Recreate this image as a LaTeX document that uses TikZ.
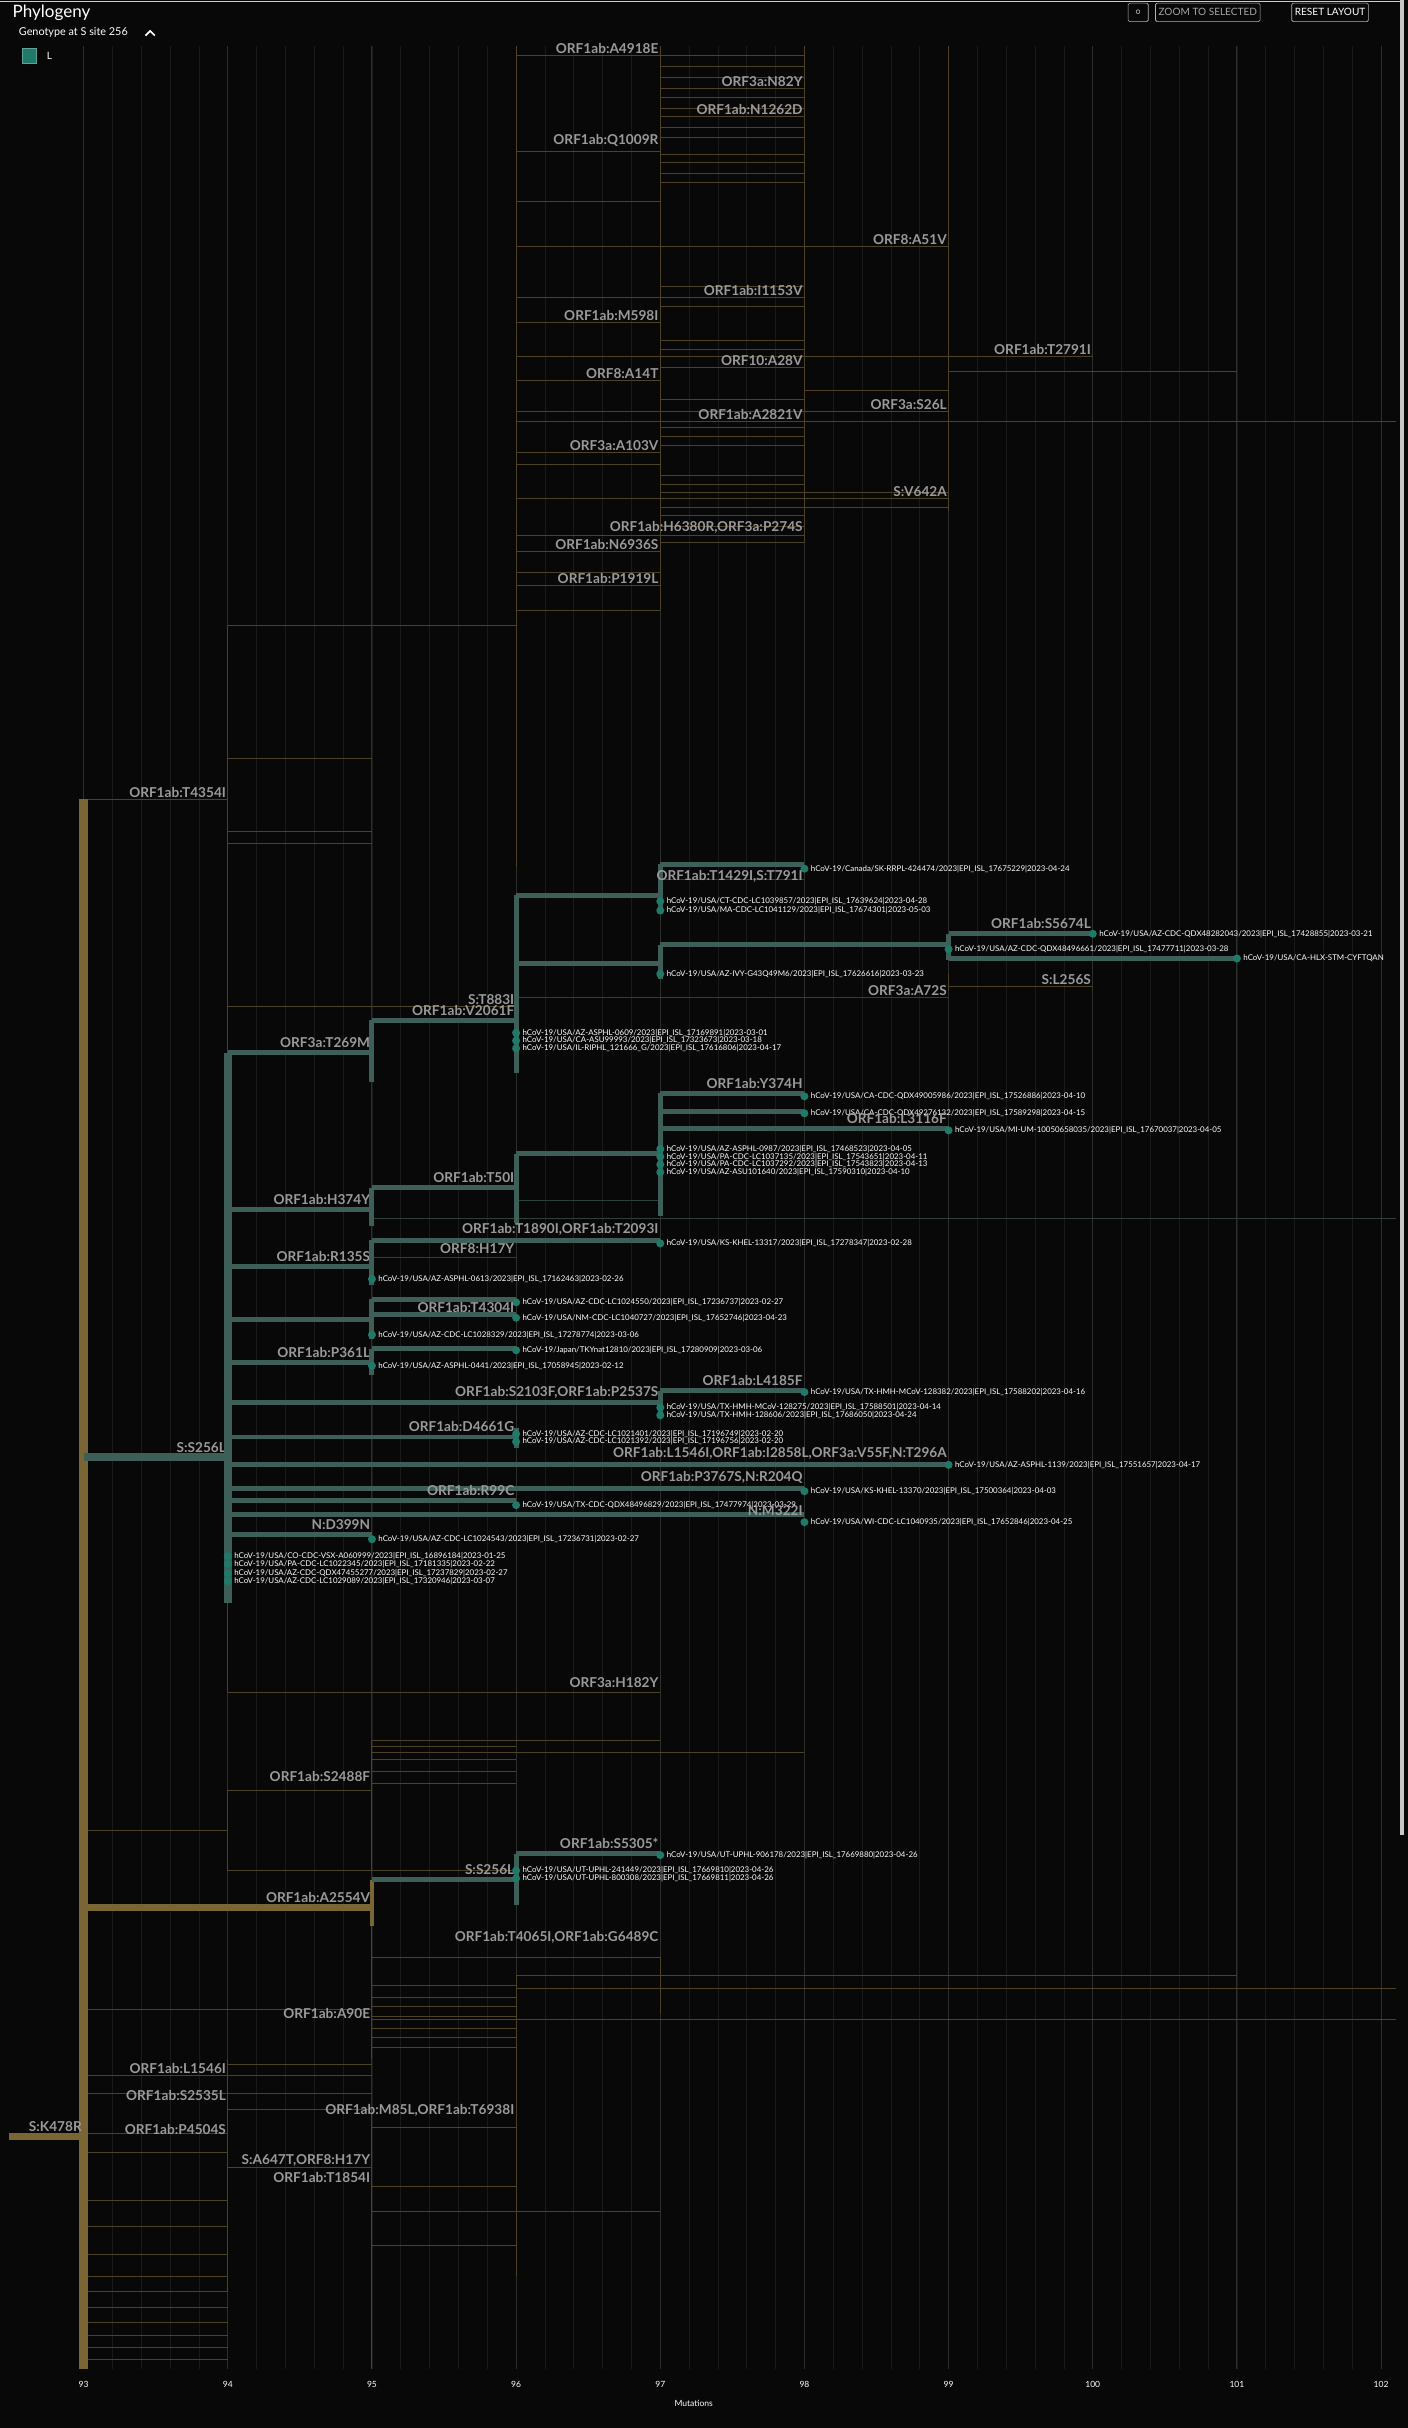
\documentclass[tikz,border=0pt]{standalone}
\usepackage{fontspec}
\setmainfont{Lato}
\begin{document}
\begin{tikzpicture}[x=1pt,y=-1pt]
\definecolor{bg}{HTML}{080808}
\definecolor{gmaj}{HTML}{2E2E2E}
\definecolor{gmin}{HTML}{1A1A1A}
\definecolor{brw}{HTML}{7A6535}
\definecolor{brwt}{HTML}{4E4226}
\definecolor{tl}{HTML}{3E5E58}
\definecolor{tlt}{HTML}{2C403C}
\definecolor{tip}{HTML}{1F7A6A}
\definecolor{mut}{HTML}{9A9A9A}
\tikzset{
 tb/.style={draw=tl,line width=3.2pt},
 tbk/.style={draw=tl,line width=5pt},
 bb/.style={draw=brw,line width=4.5pt},
 bt/.style={draw=brwt,line width=0.6pt},
 ttn/.style={draw=tlt,line width=0.7pt},
 tiplab/.style={anchor=west,text=white,font=\fontsize{5.1}{5.3}\selectfont,inner sep=0pt,xshift=4pt},
 mlab/.style={anchor=south east,text=mut,font=\bfseries\fontsize{8.8}{9}\selectfont,inner sep=1pt},
 btn/.style={draw=gray!60,rounded corners=1pt,font=\fontsize{6.5}{6.5}\selectfont,inner sep=2pt,minimum height=12pt}
}
\useasboundingbox (0,0) rectangle (909,1568);
\fill[bg] (0,0) rectangle (909,1568);
\draw[gray!40,line width=0.6pt] (0,1) -- (905,1);
\node[anchor=west,text=white!90,font=\fontsize{11}{11}\selectfont,inner sep=0] (title) at (8,8) {Phylogeny};
\node[anchor=west,text=white!85,font=\fontsize{7}{7}\selectfont,inner sep=0] (gen) at (12,21) {Genotype at S site 256};
\draw[white!85,line width=1.1pt] (94,23) -- (97,20) -- (100,23);
\node[draw=tip!70!white,fill=tip,minimum width=9pt,minimum height=10pt,inner sep=0] (leg) at (19,36) {};
\node[anchor=west,text=white!85,font=\fontsize{6.5}{6.5}\selectfont,inner sep=0] (legL) at (30,36) {L};
\node[btn,minimum width=13pt,text=white] (srch) at (735,8) {$\circ$};
\node[btn,anchor=west,text=gray!70] (zoom) at (746,8) {ZOOM TO SELECTED};
\node[btn,anchor=west,text=white!90] (reset) at (834,8) {RESET LAYOUT};
\fill[gray!45] (904,0) rectangle (907,1185);
% grid
\foreach \i in {0,...,45}{\draw[gmin,line width=0.5pt] ({54+\i*18.62},30) -- ({54+\i*18.62},1530);}
\foreach \i in {0,...,9}{\draw[gmaj,line width=0.7pt] ({54+\i*93.1},30) -- ({54+\i*93.1},1530);}
\foreach \i/\l in {0/93,1/94,2/95,3/96,4/97,5/98,6/99,7/100,8/101,9/102}{
  \node[text=white!75,font=\fontsize{5.5}{5.5}\selectfont,inner sep=0] (ax\l) at ({54+\i*93.1},1540) {\l};}
\node[text=white!75,font=\fontsize{5.5}{5.5}\selectfont,inner sep=0] (axl) at (448,1552) {Mutations};

\begin{scope}[x=93.1pt,xshift=-8604.3pt]
\newcommand\tipd[3]{\fill[tip] (#1,#2) circle (2.6pt); \node[tiplab] at (#1,#2) {#3};}
\newcommand\mlb[3]{\node[mlab] at (#1,#2) {#3};}
% ---------- thin brown texture (upper clade)
\draw[bt] (94,404) -- (96,404);
\draw[bt] (96,30) -- (96,404);
\draw[bt] (94,404) -- (94,1093);
\foreach \y/\xe in {36/97,98/97,130/97,159/99,192/98,208/97,230/100,246/97,266/99,272/98,292/97,300/97,322/99,346/98,356/97,370/97,378/97,394/97}
  \draw[bt] (96,\y) -- (\xe,\y);
\foreach \y in {36,43,50,57,63,70,75,82,89,100,105,112,118,185,192,198,220,226,237,258,276,282,288,307,313,318,328,333,340,346,350}
  \draw[bt] (97,\y) -- (98,\y);
\foreach \y in {159,230,252,266,318,322,328}
  \draw[bt] (98,\y) -- (99,\y);
\draw[bt] (97,30) -- (97,394); \draw[bt] (98,30) -- (98,350); \draw[bt] (99,30) -- (99,330);
\draw[bt] (97,272) -- (102.1,272);
\draw[bt] (99,240) -- (101,240);
\foreach \y in {490,537,545}{\draw[bt] (94,\y) -- (95,\y);}
\draw[bt] (96,404) -- (96,560);
\draw[bt] (93,516) -- (94,516);
\draw[bt] (94,650) -- (96,650);
\draw[bt] (99,637) -- (100,637);
\draw[bt] (99,629) -- (99,640);
\draw[ttn] (96,644) -- (99,644);
\draw[ttn] (97,568) -- (98,568);
\draw[ttn] (95,812) -- (96,812);
\draw[ttn] (95,787) -- (102.1,787);
\draw[ttn] (96,775) -- (97,775);
\mlb{97}{36}{ORF1ab:A4918E}
\mlb{98}{57}{ORF3a:N82Y}
\mlb{98}{75}{ORF1ab:N1262D}
\mlb{97}{96}{ORF1ab:Q1009R}
\mlb{99}{159}{ORF8:A51V}
\mlb{98}{192}{ORF1ab:I1153V}
\mlb{97}{208}{ORF1ab:M598I}
\mlb{100}{230}{ORF1ab:T2791I}
\mlb{98}{237}{ORF10:A28V}
\mlb{97}{246}{ORF8:A14T}
\mlb{99}{266}{ORF3a:S26L}
\mlb{98}{272}{ORF1ab:A2821V}
\mlb{97}{292}{ORF3a:A103V}
\mlb{99}{322}{S:V642A}
\mlb{98}{346}{ORF1ab:H6380R,ORF3a:P274S}
\mlb{97}{356}{ORF1ab:N6936S}
\mlb{97}{378}{ORF1ab:P1919L}
\mlb{94}{516}{ORF1ab:T4354I}
\mlb{96}{650}{S:T883I}
\mlb{99}{644}{ORF3a:A72S}
\mlb{100}{637}{S:L256S}
% ---------- lower brown texture
\draw[bt] (94,1093) -- (97,1093);
\foreach \y in {1128,1136,1144,1152}{\draw[bt] (95,\y) -- (96,\y);}
\draw[bt] (95,1124) -- (97,1124); \draw[bt] (95,1132) -- (98,1132);
\draw[bt] (94,1156) -- (95,1156); \draw[bt] (95,1124) -- (95,1208);
\draw[bt] (93,1182) -- (94,1182); \draw[bt] (94,1156) -- (94,1208);
\draw[bt] (94,1208) -- (96,1208);
\draw[bt] (95,1264) -- (97,1264); \draw[bt] (95,1240) -- (95,1330);
\draw[bt] (96,1276) -- (101,1276); \draw[bt] (96,1284) -- (102.1,1284);
\draw[bt] (93,1298) -- (95,1298);
\foreach \y in {1282,1290,1296,1302,1310,1316,1322}{\draw[bt] (95,\y) -- (96,\y);}
\draw[bt] (95,1304) -- (102.1,1304);
\draw[bt] (93,1352) -- (95,1352);
\draw[bt] (94,1330) -- (94,1480);
\foreach \y in {1340,1378,1390,1421,1438,1456,1470,1480,1490,1500,1508,1516,1524}{\draw[bt] (93,\y) -- (94,\y);}
\draw[bt] (94,1333) -- (95,1333); \draw[bt] (94,1340) -- (95,1340);
\draw[bt] (94,1362) -- (95,1362); \draw[bt] (94,1400) -- (95,1400);
\draw[bt] (95,1362) -- (95,1530);
\draw[bt] (95,1374) -- (96,1374); \draw[bt] (95,1412) -- (96,1412);
\draw[bt] (95,1428) -- (97,1428); \draw[bt] (95,1450) -- (96,1450);
\draw[bt] (96,1276) -- (96,1470);
\draw[bt] (97,1264) -- (97,1300);
\mlb{97}{1091}{ORF3a:H182Y}
\mlb{95}{1152}{ORF1ab:S2488F}
\mlb{97}{1256}{ORF1ab:T4065I,ORF1ab:G6489C}
\mlb{95}{1305}{ORF1ab:A90E}
\mlb{94}{1340}{ORF1ab:L1546I}
\mlb{94}{1358}{ORF1ab:S2535L}
\mlb{96}{1368}{ORF1ab:M85L,ORF1ab:T6938I}
\mlb{94}{1380}{ORF1ab:P4504S}
\mlb{95}{1400}{S:A647T,ORF8:H17Y}
\mlb{95}{1411}{ORF1ab:T1854I}
% ---------- backbone
\draw[bb] (92.48,1380) -- (93,1380);
\draw[draw=brw,line width=6pt] (93,516) -- (93,1530);
\mlb{93}{1378}{S:K478R}
% ---------- teal clade S:S256L
\draw[tbk] (93,941) -- (94,941);
\mlb{94}{939}{S:S256L}
\draw[tbk] (94,680) -- (94,1035);
% T269M
\draw[tb] (94,680) -- (95,680); \mlb{95}{678}{ORF3a:T269M}
\draw[tb] (95,659) -- (95,699);
\draw[tb] (95,659) -- (96,659); \mlb{96}{657}{ORF1ab:V2061F}
\draw[tb] (96,578) -- (96,693);
\tipd{96}{667}{hCoV-19/USA/AZ-ASPHL-0609/2023|EPI\_ISL\_17169891|2023-03-01}
\tipd{96}{672}{hCoV-19/USA/CA-ASU99993/2023|EPI\_ISL\_17323673|2023-03-18}
\tipd{96}{677}{hCoV-19/USA/IL-RIPHL\_121666\_G/2023|EPI\_ISL\_17616806|2023-04-17}
\draw[tb] (96,578) -- (97,578);
\draw[tb] (97,558) -- (97,590);
\draw[tb] (97,558) -- (98,558);
\tipd{98}{561}{hCoV-19/Canada/SK-RRPL-424474/2023|EPI\_ISL\_17675229|2023-04-24}
\mlb{98}{571}{ORF1ab:T1429I,S:T791I}
\tipd{97}{582}{hCoV-19/USA/CT-CDC-LC1039857/2023|EPI\_ISL\_17639624|2023-04-28}
\tipd{97}{588}{hCoV-19/USA/MA-CDC-LC1041129/2023|EPI\_ISL\_17674301|2023-05-03}
\draw[tb] (96,622) -- (97,622);
\draw[tb] (97,610) -- (97,632);
\draw[tb] (97,610) -- (99,610);
\draw[tb] (99,603) -- (99,620);
\draw[tb] (99,603) -- (100,603); \mlb{100}{601}{ORF1ab:S5674L}
\tipd{100}{603}{hCoV-19/USA/AZ-CDC-QDX48282043/2023|EPI\_ISL\_17428855|2023-03-21}
\tipd{99}{613}{hCoV-19/USA/AZ-CDC-QDX48496661/2023|EPI\_ISL\_17477711|2023-03-28}
\draw[tb] (99,619) -- (101,619);
\tipd{101}{619}{hCoV-19/USA/CA-HLX-STM-CYFTQAN}
\tipd{97}{629}{hCoV-19/USA/AZ-IVY-G43Q49M6/2023|EPI\_ISL\_17626616|2023-03-23}
% H374Y
\draw[tb] (94,781) -- (95,781); \mlb{95}{779}{ORF1ab:H374Y}
\draw[tb] (95,767) -- (95,792);
\draw[tb] (95,767) -- (96,767); \mlb{96}{765}{ORF1ab:T50I}
\draw[tb] (96,745) -- (96,790);
\draw[tb] (96,745) -- (97,745);
\draw[tb] (97,706) -- (97,785);
\draw[tb] (97,706) -- (98,706); \mlb{98}{704}{ORF1ab:Y374H}
\tipd{98}{708}{hCoV-19/USA/CA-CDC-QDX49005986/2023|EPI\_ISL\_17526886|2023-04-10}
\draw[tb] (97,718) -- (98,718);
\tipd{98}{719}{hCoV-19/USA/CA-CDC-QDX49276132/2023|EPI\_ISL\_17589298|2023-04-15}
\draw[tb] (97,729) -- (99,729); \mlb{99}{727}{ORF1ab:L3116F}
\tipd{99}{730}{hCoV-19/USA/MI-UM-10050658035/2023|EPI\_ISL\_17670037|2023-04-05}
\tipd{97}{742}{hCoV-19/USA/AZ-ASPHL-0987/2023|EPI\_ISL\_17468523|2023-04-05}
\tipd{97}{747}{hCoV-19/USA/PA-CDC-LC1037135/2023|EPI\_ISL\_17543651|2023-04-11}
\tipd{97}{752}{hCoV-19/USA/PA-CDC-LC1037292/2023|EPI\_ISL\_17543823|2023-04-13}
\tipd{97}{757}{hCoV-19/USA/AZ-ASU101640/2023|EPI\_ISL\_17590310|2023-04-10}
% R135S
\draw[tb] (94,818) -- (95,818); \mlb{95}{816}{ORF1ab:R135S}
\draw[tb] (95,801) -- (95,830);
\draw[tb] (95,801) -- (97,801); \mlb{97}{799}{ORF1ab:T1890I,ORF1ab:T2093I}
\tipd{97}{803}{hCoV-19/USA/KS-KHEL-13317/2023|EPI\_ISL\_17278347|2023-02-28}
\mlb{96}{811}{ORF8:H17Y}
\tipd{95}{826}{hCoV-19/USA/AZ-ASPHL-0613/2023|EPI\_ISL\_17162463|2023-02-26}
% T4304I
\draw[tb] (94,852) -- (95,852);
\draw[tb] (95,839) -- (95,865);
\draw[tb] (95,839) -- (96,839);
\tipd{96}{841}{hCoV-19/USA/AZ-CDC-LC1024550/2023|EPI\_ISL\_17236737|2023-02-27}
\draw[tb] (95,849) -- (96,849); \mlb{96}{849}{ORF1ab:T4304I}
\tipd{96}{851}{hCoV-19/USA/NM-CDC-LC1040727/2023|EPI\_ISL\_17652746|2023-04-23}
\tipd{95}{862}{hCoV-19/USA/AZ-CDC-LC1028329/2023|EPI\_ISL\_17278774|2023-03-06}
% P361L
\draw[tb] (94,880) -- (95,880); \mlb{95}{878}{ORF1ab:P361L}
\draw[tb] (95,871) -- (95,888);
\draw[tb] (95,871) -- (96,871);
\tipd{96}{872}{hCoV-19/Japan/TKYnat12810/2023|EPI\_ISL\_17280909|2023-03-06}
\tipd{95}{882}{hCoV-19/USA/AZ-ASPHL-0441/2023|EPI\_ISL\_17058945|2023-02-12}
% S2103F
\draw[tb] (94,906) -- (97,906); \mlb{97}{904}{ORF1ab:S2103F,ORF1ab:P2537S}
\draw[tb] (97,898) -- (97,916);
\draw[tb] (97,898) -- (98,898); \mlb{98}{896}{ORF1ab:L4185F}
\tipd{98}{899}{hCoV-19/USA/TX-HMH-MCoV-128382/2023|EPI\_ISL\_17588202|2023-04-16}
\tipd{97}{909}{hCoV-19/USA/TX-HMH-MCoV-128275/2023|EPI\_ISL\_17588501|2023-04-14}
\tipd{97}{914}{hCoV-19/USA/TX-HMH-128606/2023|EPI\_ISL\_17686050|2023-04-24}
% D4661G
\draw[tb] (94,928) -- (96,928); \mlb{96}{926}{ORF1ab:D4661G}
\draw[tb] (96,922) -- (96,935);
\tipd{96}{926}{hCoV-19/USA/AZ-CDC-LC1021401/2023|EPI\_ISL\_17196749|2023-02-20}
\tipd{96}{931}{hCoV-19/USA/AZ-CDC-LC1021392/2023|EPI\_ISL\_17196756|2023-02-20}
% L1546I
\draw[tb] (94,946) -- (99,946); \mlb{99}{944}{ORF1ab:L1546I,ORF1ab:I2858L,ORF3a:V55F,N:T296A}
\tipd{99}{946}{hCoV-19/USA/AZ-ASPHL-1139/2023|EPI\_ISL\_17551657|2023-04-17}
\draw[tb] (94,961) -- (98,961); \mlb{98}{959}{ORF1ab:P3767S,N:R204Q}
\tipd{98}{963}{hCoV-19/USA/KS-KHEL-13370/2023|EPI\_ISL\_17500364|2023-04-03}
\draw[tb] (94,969) -- (96,969); \mlb{96}{967}{ORF1ab:R99C}
\tipd{96}{972}{hCoV-19/USA/TX-CDC-QDX48496829/2023|EPI\_ISL\_17477974|2023-03-29}
\draw[tb] (94,978) -- (98,978); \mlb{98}{980}{N:M322I}
\tipd{98}{983}{hCoV-19/USA/WI-CDC-LC1040935/2023|EPI\_ISL\_17652846|2023-04-25}
\draw[tb] (94,991) -- (95,991); \mlb{95}{989}{N:D399N}
\tipd{95}{994}{hCoV-19/USA/AZ-CDC-LC1024543/2023|EPI\_ISL\_17236731|2023-02-27}
\tipd{94}{1005}{hCoV-19/USA/CO-CDC-VSX-A060999/2023|EPI\_ISL\_16896184|2023-01-25}
\tipd{94}{1010}{hCoV-19/USA/PA-CDC-LC1022345/2023|EPI\_ISL\_17181335|2023-02-22}
\tipd{94}{1016}{hCoV-19/USA/AZ-CDC-QDX47455277/2023|EPI\_ISL\_17237829|2023-02-27}
\tipd{94}{1021}{hCoV-19/USA/AZ-CDC-LC1029089/2023|EPI\_ISL\_17320946|2023-03-07}
% ---------- lower teal clade
\draw[bb] (93,1232) -- (95,1232); \mlb{95}{1230}{ORF1ab:A2554V}
\draw[draw=brw,line width=2.5pt] (95,1214) -- (95,1244);
\draw[tb] (95,1214) -- (96,1214); \mlb{96}{1212}{S:S256L}
\draw[tb] (96,1197) -- (96,1230);
\draw[tb] (96,1197) -- (97,1197); \mlb{97}{1195}{ORF1ab:S5305*}
\tipd{97}{1198}{hCoV-19/USA/UT-UPHL-906178/2023|EPI\_ISL\_17669880|2023-04-26}
\tipd{96}{1208}{hCoV-19/USA/UT-UPHL-241449/2023|EPI\_ISL\_17669810|2023-04-26}
\tipd{96}{1213}{hCoV-19/USA/UT-UPHL-800308/2023|EPI\_ISL\_17669811|2023-04-26}
\end{scope}
\end{tikzpicture}
\end{document}
